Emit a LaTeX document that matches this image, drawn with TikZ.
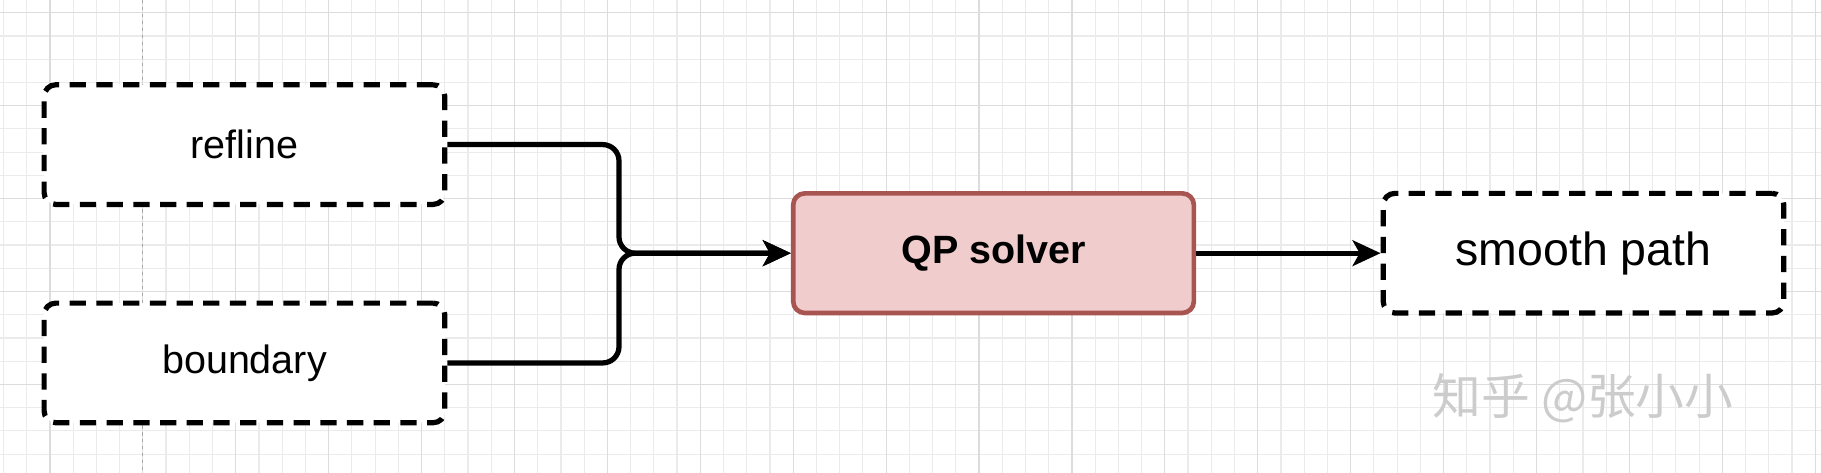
\documentclass[tikz,border=0pt]{standalone}
\usepackage{fontspec}
\setmainfont{Liberation Sans}
\newfontfamily\cjk{Noto Sans CJK SC}
\usetikzlibrary{arrows.meta}
\definecolor{gminor}{HTML}{EBEBEB}
\definecolor{gmajor}{HTML}{DCDCDC}
\definecolor{qpfill}{HTML}{F0CCCC}
\definecolor{qpdraw}{HTML}{A85450}
\begin{document}
\begin{tikzpicture}[x=1pt,y=-1pt,
  dbox/.style={draw=black,line width=4.5pt,dash pattern=on 14pt off 9pt,rounded corners=10pt,fill=white,minimum width=345pt,minimum height=103pt,font=\fontsize{34}{40}\selectfont},
  qbox/.style={draw=qpdraw,line width=4pt,rounded corners=10pt,fill=qpfill,minimum width=345pt,minimum height=103pt,font=\fontsize{34}{40}\selectfont\bfseries},
  conn/.style={line width=4.5pt,rounded corners=14pt,-{Stealth[length=24pt,width=22pt,inset=6pt]}}]
\useasboundingbox (0,0) rectangle (1568,407);
\fill[white] (0,0) rectangle (1568,407);
\foreach \x in {3,23,...,1568} \draw[gminor,line width=1pt] (\x,0) -- (\x,407);
\foreach \y in {11,31,...,407} \draw[gminor,line width=1pt] (0,\y) -- (1568,\y);
\foreach \x in {43,123,...,1568} \draw[gmajor,line width=1pt] (\x,0) -- (\x,407);
\foreach \y in {11,91,...,407} \draw[gmajor,line width=1pt] (0,\y) -- (1568,\y);
\draw[gray!70,line width=1pt,dashed] (123,0) -- (123,407);
\node[dbox] (ref) at (210.5,124.5) {refline};
\node[dbox] (bnd) at (210.5,312.5) {boundary};
\node[qbox] (qp) at (855.5,218) {QP solver};
\node[dbox,font=\fontsize{40}{46}\selectfont] (sp) at (1363.5,218) {smooth path};
\coordinate (j) at (533,218);
\draw[conn] (ref.east) -| (j) -- (qp.west);
\draw[conn] (bnd.east) -| (j) -- (qp.west);
\draw[conn] (qp.east) -- (sp.west);
\node[text=gray!40,font=\cjk\fontsize{42}{48}\selectfont,anchor=west] (wm) at (1230,343) {知乎 @张小小};
\end{tikzpicture}
\end{document}
